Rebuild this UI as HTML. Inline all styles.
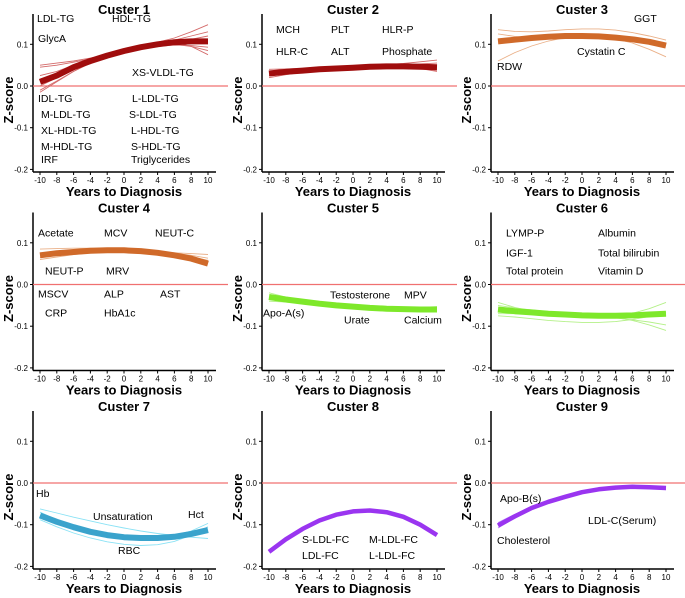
<!DOCTYPE html>
<html><head><meta charset="utf-8"><style>
body{margin:0;background:#fff;}
svg{display:block;font-family:"Liberation Sans",sans-serif;}
</style></head><body>
<svg id="chart" width="685" height="598" viewBox="0 0 685 598" xmlns="http://www.w3.org/2000/svg"></svg>
<script>
const years = [-10,-8,-6,-4,-2,0,2,4,6,8,10];
const yTicks = [0.1,0.0,-0.1,-0.2];
const yTickLabels = ["0.1","0.0","-0.1","-0.2"];
const xTickLabels = ["-10","-8","-6","-4","-2","0","2","4","6","8","10"];
const clusterNames = ["Custer 1","Custer 2","Custer 3","Custer 4","Custer 5","Custer 6","Custer 7","Custer 8","Custer 9"];
const mainC1 = [0.01,0.025,0.045,0.06,0.073,0.084,0.093,0.1,0.105,0.107,0.107];
const mainC2 = [0.03,0.034,0.037,0.04,0.042,0.044,0.046,0.047,0.047,0.046,0.045];
const mainC3 = [0.107,0.111,0.115,0.118,0.12,0.12,0.119,0.116,0.112,0.106,0.097];
const mainC4 = [0.07,0.075,0.078,0.081,0.082,0.082,0.08,0.076,0.07,0.062,0.05];
const mainC5 = [-0.03,-0.036,-0.041,-0.046,-0.05,-0.053,-0.056,-0.058,-0.059,-0.06,-0.06];
const mainC6 = [-0.06,-0.064,-0.067,-0.07,-0.072,-0.074,-0.075,-0.075,-0.074,-0.072,-0.07];
const mainC7 = [-0.078,-0.093,-0.106,-0.117,-0.125,-0.13,-0.132,-0.132,-0.129,-0.122,-0.113];
const mainC8 = [-0.165,-0.135,-0.11,-0.09,-0.076,-0.068,-0.066,-0.07,-0.081,-0.1,-0.125];
const mainC9 = [-0.102,-0.08,-0.06,-0.045,-0.033,-0.022,-0.015,-0.011,-0.009,-0.01,-0.012];
const thinC1 = [
 [0.05,0.055,0.06,0.067,0.075,0.083,0.09,0.098,0.105,0.112,0.12],
 [-0.01,0.012,0.035,0.055,0.07,0.083,0.095,0.105,0.115,0.13,0.147],
 [0.025,0.035,0.05,0.063,0.075,0.085,0.093,0.1,0.1,0.095,0.085],
 [0.045,0.05,0.057,0.065,0.075,0.083,0.09,0.095,0.098,0.097,0.093],
 [-0.015,0.01,0.035,0.055,0.072,0.085,0.097,0.105,0.105,0.095,0.075],
 [0.0,0.02,0.04,0.058,0.072,0.085,0.094,0.102,0.11,0.12,0.13]];
const thinC2 = [
 [0.02,0.027,0.033,0.038,0.042,0.045,0.048,0.051,0.054,0.058,0.062],
 [0.04,0.041,0.042,0.043,0.044,0.045,0.045,0.045,0.044,0.042,0.038],
 [0.025,0.03,0.035,0.04,0.043,0.046,0.048,0.048,0.046,0.042,0.035],
 [0.035,0.037,0.039,0.041,0.043,0.045,0.047,0.049,0.051,0.053,0.055]];
const thinC3 = [
 [0.06,0.08,0.096,0.108,0.116,0.12,0.119,0.113,0.103,0.088,0.07],
 [0.135,0.131,0.13,0.132,0.135,0.137,0.137,0.134,0.128,0.12,0.11],
 [0.125,0.119,0.115,0.114,0.114,0.115,0.115,0.113,0.11,0.105,0.1]];
const thinC4 = [
 [0.085,0.086,0.087,0.087,0.086,0.084,0.081,0.077,0.072,0.066,0.058],
 [0.06,0.066,0.072,0.076,0.079,0.08,0.08,0.078,0.075,0.07,0.063],
 [0.075,0.078,0.08,0.081,0.081,0.08,0.078,0.075,0.07,0.063,0.055],
 [0.065,0.07,0.074,0.078,0.08,0.08,0.079,0.078,0.076,0.074,0.072]];
const thinC5 = [
 [-0.02,-0.03,-0.038,-0.045,-0.05,-0.055,-0.058,-0.061,-0.063,-0.065,-0.066],
 [-0.04,-0.042,-0.045,-0.048,-0.051,-0.053,-0.055,-0.056,-0.056,-0.055,-0.053],
 [-0.03,-0.035,-0.04,-0.044,-0.048,-0.051,-0.054,-0.057,-0.059,-0.061,-0.062]];
const thinC6 = [
 [-0.043,-0.055,-0.064,-0.071,-0.075,-0.077,-0.077,-0.075,-0.069,-0.058,-0.043],
 [-0.075,-0.078,-0.082,-0.086,-0.089,-0.091,-0.091,-0.089,-0.084,-0.077,-0.067],
 [-0.05,-0.056,-0.061,-0.065,-0.068,-0.071,-0.074,-0.079,-0.086,-0.097,-0.11],
 [-0.07,-0.07,-0.071,-0.072,-0.073,-0.074,-0.076,-0.08,-0.085,-0.09,-0.097]];
const thinC7 = [
 [-0.062,-0.072,-0.082,-0.091,-0.1,-0.108,-0.115,-0.121,-0.126,-0.13,-0.133],
 [-0.088,-0.105,-0.12,-0.132,-0.141,-0.147,-0.15,-0.148,-0.14,-0.125,-0.105],
 [-0.07,-0.088,-0.103,-0.115,-0.124,-0.13,-0.133,-0.132,-0.126,-0.115,-0.097]];
const thinC8 = [
 [-0.162,-0.133,-0.108,-0.088,-0.075,-0.068,-0.067,-0.072,-0.083,-0.1,-0.123]];
const thinC9 = [
 [-0.095,-0.075,-0.057,-0.043,-0.032,-0.023,-0.017,-0.013,-0.012,-0.013,-0.016],
 [-0.108,-0.084,-0.063,-0.047,-0.034,-0.022,-0.014,-0.009,-0.007,-0.007,-0.009]];
const mains = [mainC1,mainC2,mainC3,mainC4,mainC5,mainC6,mainC7,mainC8,mainC9];
const thins = [thinC1,thinC2,thinC3,thinC4,thinC5,thinC6,thinC7,thinC8,thinC9];
const mainColors = ["#a00d0d","#a00d0d","#d06a2a","#d06a2a","#7ee82a","#7ee82a","#3aa3cc","#9a35f0","#9a35f0"];
const thinColors = ["#d46a6a","#d46a6a","#eab088","#eab088","#b4f088","#b4f088","#8ae2f5","#b880ff","#b880ff"];
const labels = [
 [["LDL-TG",37,22],["HDL-TG",112,22],["GlycA",38,42],["XS-VLDL-TG",132,76],["IDL-TG",38,102],["L-LDL-TG",132,102],["M-LDL-TG",41,118],["S-LDL-TG",129,118],["XL-HDL-TG",41,134],["L-HDL-TG",131,134],["M-HDL-TG",41,150],["S-HDL-TG",131,150],["IRF",41,163],["Triglycerides",131,163]],
 [["MCH",47,33],["PLT",102,33],["HLR-P",153,33],["HLR-C",47,55],["ALT",102,55],["Phosphate",153,55]],
 [["GGT",176,22],["RDW",39,70],["Cystatin C",119,55]],
 [["Acetate",38,38],["MCV",104,38],["NEUT-C",155,38],["NEUT-P",45,76],["MRV",106,76],["MSCV",38,99],["ALP",104,99],["AST",160,99],["CRP",45,118],["HbA1c",104,118]],
 [["Testosterone",101,100],["MPV",175,100],["Apo-A(s)",34,118],["Urate",115,125],["Calcium",175,125]],
 [["LYMP-P",48,38],["Albumin",140,38],["IGF-1",48,58],["Total bilirubin",140,58],["Total protein",48,76],["Vitamin D",140,76]],
 [["Hb",36,100],["Unsaturation",93,123],["Hct",188,121],["RBC",118,157]],
 [["S-LDL-FC",73,146],["M-LDL-FC",140,146],["LDL-FC",73,162],["L-LDL-FC",140,162]],
 [["Apo-B(s)",42,105],["LDL-C(Serum)",130,127],["Cholesterol",39,147]]
];
const NS="http://www.w3.org/2000/svg";
const svg=document.getElementById('chart');
function mk(tag,attrs,parent){const e=document.createElementNS(NS,tag);for(const k in attrs)e.setAttribute(k,attrs[k]);(parent||svg).appendChild(e);return e;}
for(let p=0;p<9;p++){
  const col=p%3,row=Math.floor(p/3);
  const ox=col*229, oy=row*198.5;
  const xs=v=>ox+40+(v+10)*8.4;
  const ys=v=>oy+86-v*417;
  const g=mk('g',{});
  
  
  const t=mk('text',{x:ox+124,y:oy+14,'text-anchor':'middle','font-size':13,'font-weight':'bold'},g);
  t.textContent=clusterNames[p];
  
  
  const ya=mk('line',{x1:ox+33,y1:oy+14,x2:ox+33,y2:oy+172,stroke:'#000','stroke-width':1.5},g);
  
  
  const xa=mk('line',{x1:ox+33,y1:oy+172,x2:ox+216,y2:oy+172,stroke:'#000','stroke-width':1.5},g);
  
  
  yTicks.forEach((v,i)=>{
    mk('line',{x1:ox+30,y1:ys(v),x2:ox+33,y2:ys(v),stroke:'#000'},g);
    const tl=mk('text',{x:ox+28,y:ys(v)+3,'text-anchor':'end','font-size':8},g);
    tl.textContent=yTickLabels[i];
    
    
  });
  years.forEach((v,i)=>{
    mk('line',{x1:xs(v),y1:oy+172,x2:xs(v),y2:oy+175,stroke:'#000'},g);
    const tl=mk('text',{x:xs(v),y:oy+183,'text-anchor':'middle','font-size':8},g);
    tl.textContent=xTickLabels[i];
    
    
  });
  const xt=mk('text',{x:ox+124,y:oy+196,'text-anchor':'middle','font-size':13,'font-weight':'bold'},g);
  xt.textContent='Years to Diagnosis';
  
  
  const yt=mk('text',{x:0,y:0,'text-anchor':'middle','font-size':13,'font-weight':'bold',transform:`translate(${ox+13},${oy+100}) rotate(-90)`},g);
  yt.textContent='Z-score';
  
  
  const zl=mk('line',{x1:ox+33,y1:ys(0),x2:ox+228,y2:ys(0),stroke:'#f07070','stroke-width':1.2},g);
  
  
  thins[p].forEach(arr=>{
    const d=arr.map((v,i)=>(i?'L':'M')+xs(years[i]).toFixed(1)+','+ys(v).toFixed(1)).join('');
    const pl=mk('path',{d:d,fill:'none',stroke:thinColors[p],'stroke-width':0.9},g);
    
    
  });
  const d=mains[p].map((v,i)=>(i?'L':'M')+xs(years[i]).toFixed(1)+','+ys(v).toFixed(1)).join('');
  const ml=mk('path',{d:d,fill:'none',stroke:mainColors[p],'stroke-width':p>=7?4.5:6,'stroke-linejoin':'round'},g);
  
  
  labels[p].forEach(l=>{
    const tx=mk('text',{x:ox+l[1],y:oy+l[2],'font-size':10.5},g);
    tx.textContent=l[0];
    
    
  });
}
</script>
</body></html>
